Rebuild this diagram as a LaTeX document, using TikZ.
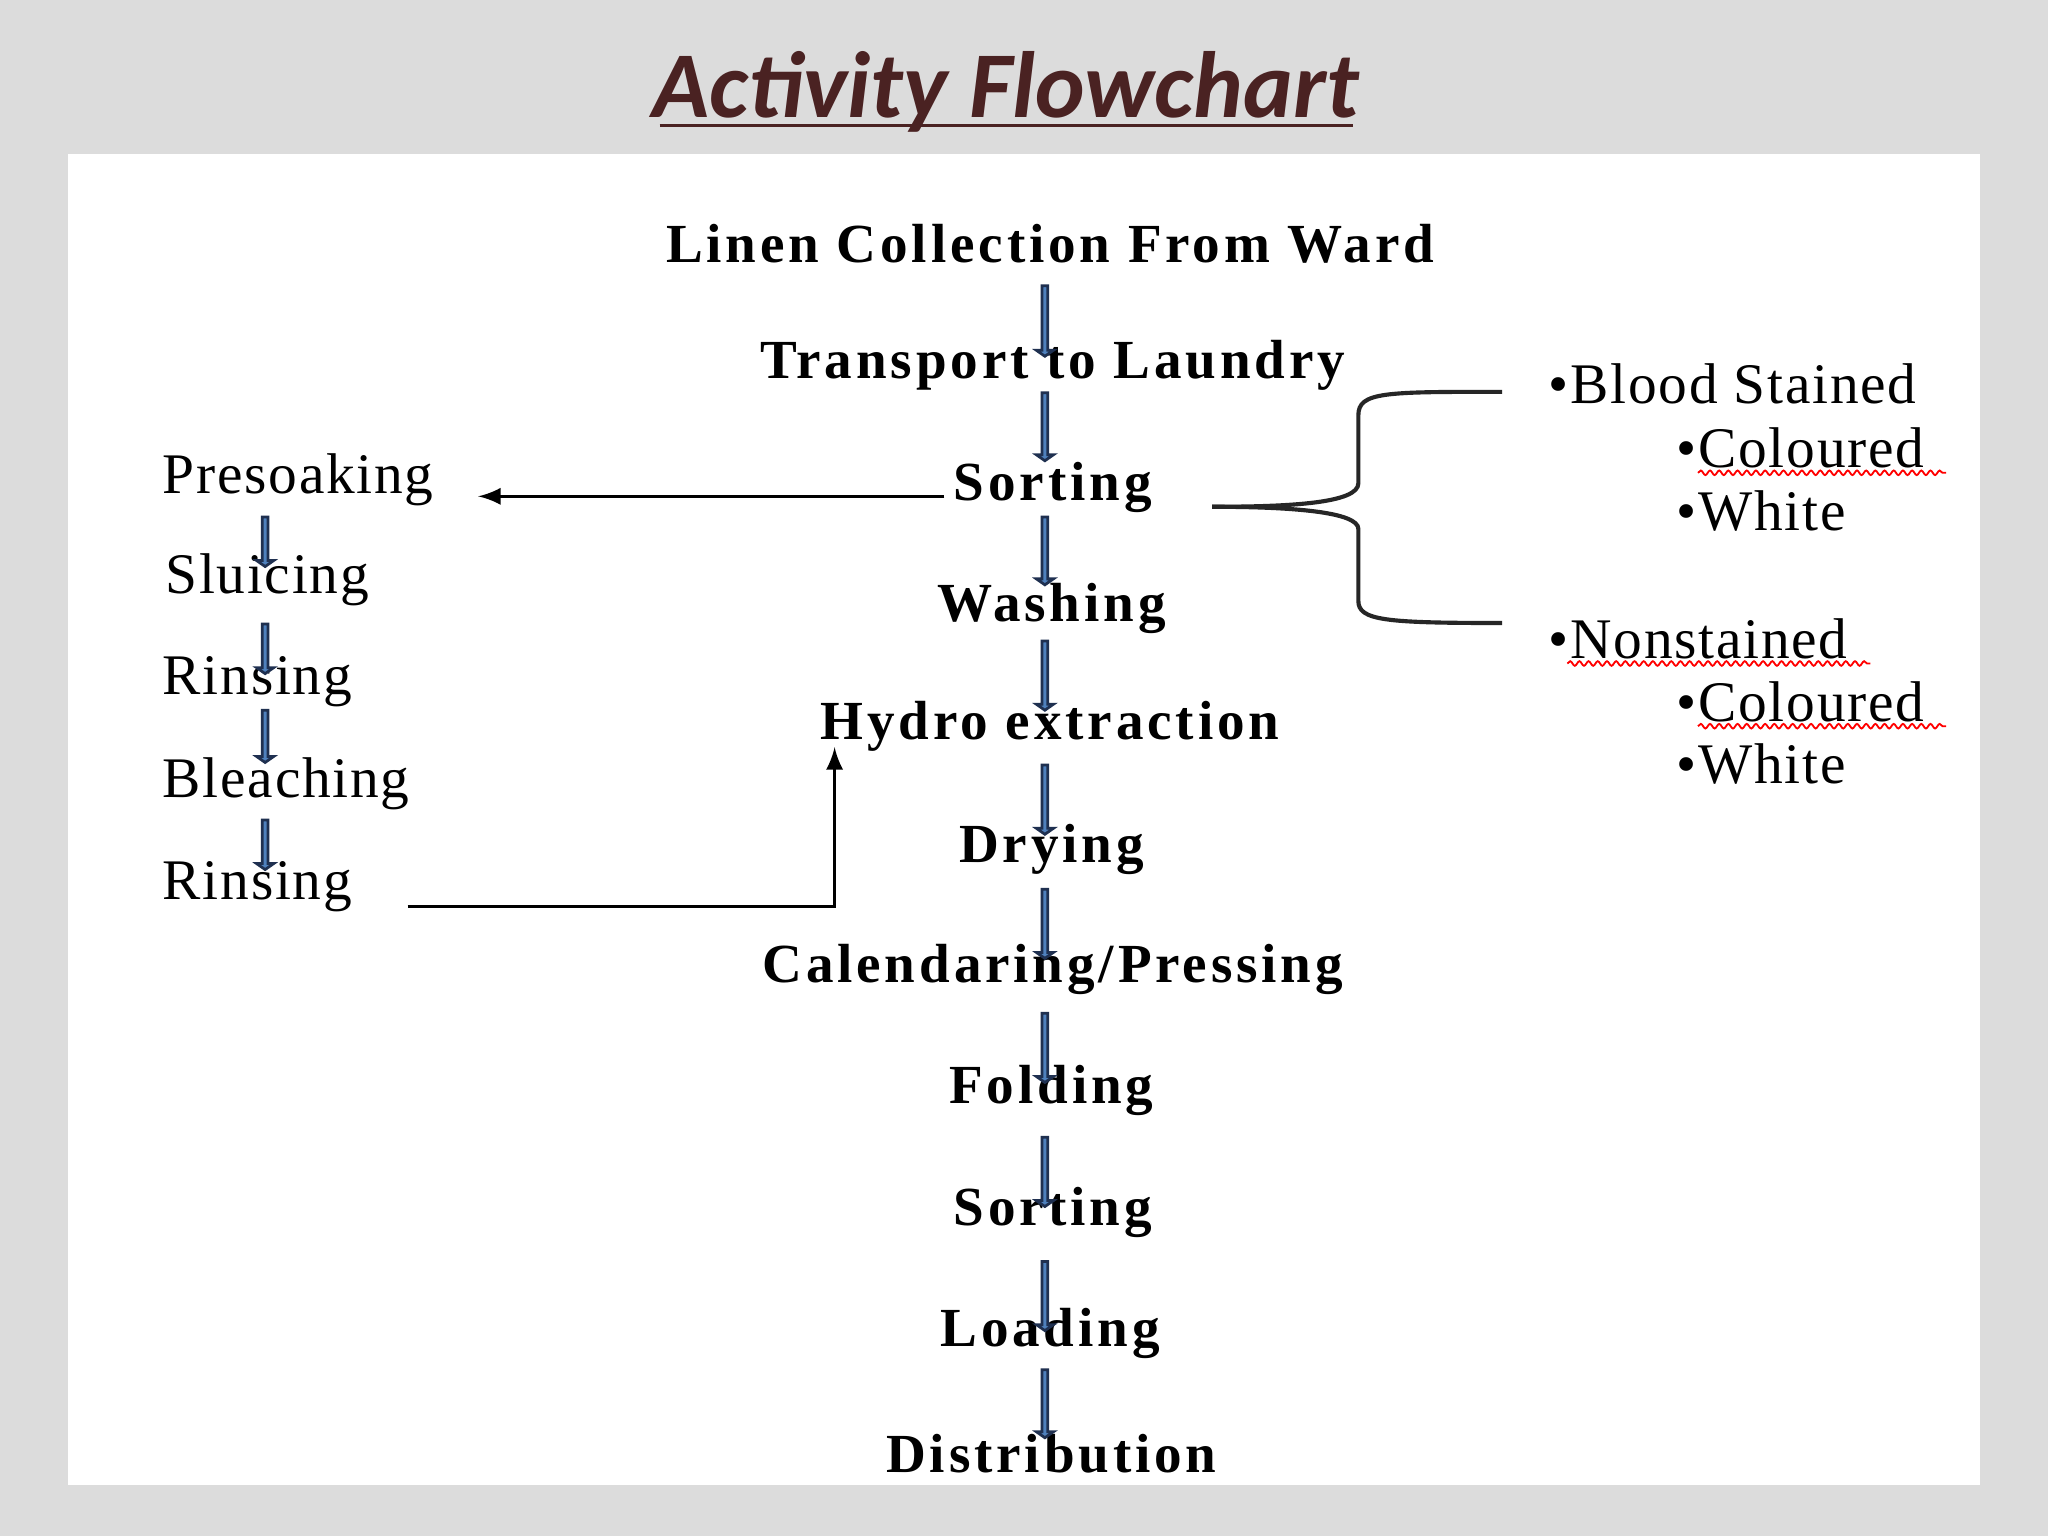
\documentclass[tikz,border=0pt]{standalone}
\usepackage{fontspec}
\setmainfont{Liberation Serif}
\newfontfamily\tfont{Carlito}
\newfontfamily\bfont[LetterSpace=7]{Liberation Serif}
\newfontfamily\rfont[LetterSpace=3]{Liberation Serif}
\usetikzlibrary{shapes.arrows,decorations.pathmorphing}
\definecolor{bg}{HTML}{DCDCDC}
\definecolor{tcol}{HTML}{4A2222}
\definecolor{ablue}{HTML}{4F81BD}
\definecolor{adark}{HTML}{1F3050}
\begin{document}
\begin{tikzpicture}[x=0.01cm,y=-0.01cm,
  c/.style={font=\bfont\bfseries\fontsize{12}{14}\selectfont,inner sep=0pt},
  l/.style={font=\rfont\fontsize{12.5}{14}\selectfont,inner sep=0pt,anchor=west},
  r/.style={font=\rfont\fontsize{12.5}{14}\selectfont,inner sep=0pt,anchor=west},
  ba/.style={single arrow,draw=adark,fill=ablue,line width=0.6pt,rotate=-90,
    minimum width=0.13cm,single arrow head extend=0.6pt,single arrow tip angle=110,inner sep=0pt},
  ln/.style={line width=0.7pt,black},
  wav/.style={red,line width=0.4pt,decorate,decoration={snake,amplitude=0.5pt,segment length=2pt}}]
\fill[bg] (0,0) rectangle (1568,1176);
\fill[white] (52,118) rectangle (1516,1137);
\useasboundingbox (0,0) rectangle (1568,1176);
\node[font=\tfont\bfseries\itshape\fontsize{20.5}{24}\selectfont,text=tcol,inner sep=0pt] (title) at (770,70) {Activity Flowchart};
\draw[tcol,line width=0.8pt] (505,96) -- (1036,96);
% center column
\node[c] (n1) at (804,187) {Linen Collection From Ward};
\node[c] (n2) at (806,280) {Transport to Laundry};
\node[c] (n3) at (806,373) {Sorting};
\node[c] (n4) at (805,466) {Washing};
\node[c] (n5) at (804,556) {Hydro extraction};
\node[c] (n6) at (805,650) {Drying};
\node[c] (n7) at (806,742) {Calendaring/Pressing};
\node[c] (n8) at (805,835) {Folding};
\node[c] (n9) at (806,928) {Sorting};
\node[c] (n10) at (804,1021) {Loading};
\node[c] (n11) at (805,1113) {Distribution};
\foreach \a/\b in {218/272,300/352,395/447,490/543,585/638,680/733,775/828,870/923,965/1018,1048/1100}
  \node[ba,minimum height={(\b-\a)*0.01cm}] at (800,{(\a+\b)/2}) {};
% left column
\node[l] (p1) at (124,367) {Presoaking};
\node[l] (p2) at (126,444) {Sluicing};
\node[l] (p3) at (124,522) {Rinsing};
\node[l] (p4) at (124,600) {Bleaching};
\node[l] (p5) at (124,679) {Rinsing};
\foreach \a/\b in {395/433,477/515,543/583,627/665}
  \node[ba,minimum height={(\b-\a)*0.01cm}] at (203,{(\a+\b)/2}) {};
% right column
\node[r] (q1) at (1185,294) {•Blood Stained};
\node[r] (q2) at (1283,343) {•Coloured};
\node[r] (q3) at (1283,391) {•White};
\node[r] (q4) at (1185,489) {•Nonstained};
\node[r] (q5) at (1283,537) {•Coloured};
\node[r] (q6) at (1283,585) {•White};
\draw[wav] (1300,362) -- (1490,362);
\draw[wav] (1300,556) -- (1490,556);
\draw[wav] (1200,508) -- (1432,508);
% connectors
\coordinate (s1) at (723,380);
\coordinate (pe) at (366,380);
\draw[ln,-latex] (s1) -- (pe);
\coordinate (rr) at (312,694);
\coordinate (hx) at (639,572);
\draw[ln,-latex] (rr) -- (hx |- rr) -- (hx);
\coordinate (bs) at (928,388);
\draw[line width=0.9pt,gray!30!black] (1150,300) .. controls (1060,300) and (1040,300) .. (1040,318) -- (1040,370) .. controls (1040,385) and (990,388) .. (bs);
\draw[line width=0.9pt,gray!30!black] (1150,477) .. controls (1060,477) and (1040,475) .. (1040,460) -- (1040,405) .. controls (1040,392) and (990,388) .. (bs);
\end{tikzpicture}
\end{document}
